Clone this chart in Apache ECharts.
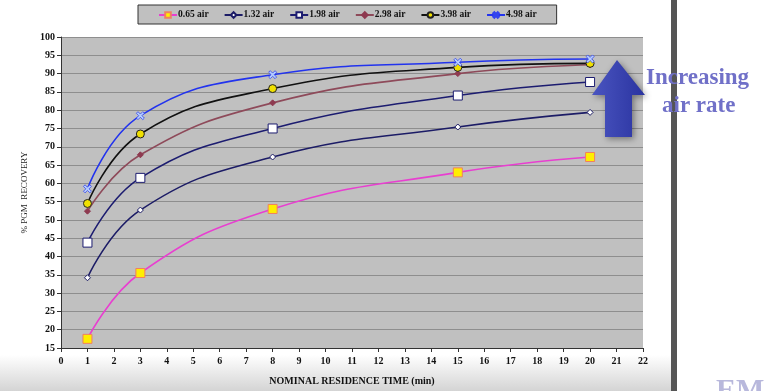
<!DOCTYPE html>
<html><head><meta charset="utf-8">
<script src="https://cdn.jsdelivr.net/npm/echarts@6/dist/echarts.min.js"></script>
<style>html,body{margin:0;padding:0;background:#fff}#c{width:764px;height:391px}</style>
</head><body><div id="c"></div>
<script>
var times = [1, 3, 8, 15, 20];
var seriesNames = ['0.65 air', '1.32 air', '1.98 air', '2.98 air', '3.98 air', '4.98 air'];
var air065 = [17.5, 35.5, 53.0, 63.0, 67.2];
var air132 = [34.2, 52.7, 67.2, 75.4, 79.4];
var air198 = [43.8, 61.5, 75.0, 84.0, 87.7];
var air298 = [52.4, 67.8, 82.0, 90.0, 92.4];
var air398 = [54.5, 73.5, 85.9, 91.7, 92.8];
var air498 = [58.5, 78.5, 89.7, 93.1, 94.0];
var xTicks = [0,1,2,3,4,5,6,7,8,9,10,11,12,13,14,15,16,17,18,19,20,21,22];
var yTicks = [15,20,25,30,35,40,45,50,55,60,65,70,75,80,85,90,95,100];

var values = [air065, air132, air198, air298, air398, air498];
var styles = [
  {line:'#e83fd0', symbol:'rect', size:9, fill:'#ffee00', border:'#f08060', bw:1},
  {line:'#1c1c66', symbol:'diamond', size:6, fill:'#ffffff', border:'#1c1c66', bw:1},
  {line:'#1c1c70', symbol:'rect', size:9, fill:'#ffffff', border:'#1c1c70', bw:1},
  {line:'#8e4a5a', symbol:'diamond', size:6, fill:'#8e3a50', border:'#8e3a50', bw:1},
  {line:'#111111', symbol:'circle', size:8, fill:'#f0e000', border:'#222222', bw:1},
  {line:'#2233ee', symbol:'path://M0,2L2,0L5,3L8,0L10,2L7,5L10,8L8,10L5,7L2,10L0,8L3,5Z', size:8, fill:'#b8d0ff', border:'#3344ee', bw:0.8}
];
var serif = '"Liberation Serif","DejaVu Serif",serif';
var series = values.map(function(v, i){
  var s = styles[i];
  return {
    name: seriesNames[i], type:'line', smooth:0.45,
    data: times.map(function(t, j){ return [t, v[j]]; }),
    symbol: s.symbol, symbolSize: s.size, showSymbol:true,
    lineStyle:{color:s.line, width:1.6},
    itemStyle:{color:s.fill, borderColor:s.border, borderWidth:s.bw},
    z: 3 + i
  };
});
var chart = echarts.init(document.getElementById('c'), null, {renderer:'canvas'});
chart.setOption({
  animation:false,
  backgroundColor:'#ffffff',
  graphic:[
    {type:'rect', z:-10, shape:{x:0,y:355,width:764,height:36},
      style:{fill:new echarts.graphic.LinearGradient(0,0,0,1,[{offset:0,color:'#ffffff'},{offset:1,color:'#d4d4d4'}])}},
    {type:'rect', z:-5, shape:{x:671,y:0,width:6,height:391}, style:{fill:'#555555'}},
    {type:'rect', z:-6, shape:{x:677,y:0,width:87,height:391}, style:{fill:'#ffffff'}},
    {type:'polygon', z:20, shape:{points:[[617,60],[645,95],[632,95],[632,137],[605,137],[605,95],[592,95]]},
      style:{fill:new echarts.graphic.LinearGradient(0,0,1,0,[{offset:0,color:'#4a55c0'},{offset:1,color:'#2a33a0'}]),
        shadowBlur:6, shadowColor:'rgba(0,0,0,0.4)', shadowOffsetX:2, shadowOffsetY:2}},
    {type:'text', z:21, left:646, top:67, style:{text:'Increasing', font:'bold 23px "Liberation Serif","DejaVu Serif",serif', fill:'#7070c8'}},
    {type:'text', z:21, left:662, top:95, style:{text:'air rate', font:'bold 23px "Liberation Serif","DejaVu Serif",serif', fill:'#7070c8'}},
    {type:'text', z:21, left:716, top:376, style:{text:'EMC', font:'bold 30px "Liberation Serif","DejaVu Serif",serif', fill:'#b8b8dc'}}
  ],
  legend:{
    data: seriesNames, left:138, top:5, orient:'horizontal',
    backgroundColor:'#c0c0c0', borderColor:'#333333', borderWidth:1,
    padding:[5,20,4,20], itemGap:15, itemWidth:18, itemHeight:7,
    textStyle:{fontFamily:serif, fontSize:9.5, fontWeight:'bold', color:'#111', padding:[0,0,0,-4]}
  },
  grid:{left:61, right:121, top:37, bottom:39, show:true, backgroundColor:'#c0c0c0', borderWidth:0},
  xAxis:{
    type:'value', min:0, max:22, interval:1,
    name:'NOMINAL RESIDENCE TIME (min)', nameLocation:'middle', nameGap:28,
    nameTextStyle:{fontFamily:serif, fontSize:10, fontWeight:'bold', color:'#111'},
    axisLine:{show:true, lineStyle:{color:'#333', width:1}},
    axisTick:{show:true, length:4, lineStyle:{color:'#333'}},
    axisLabel:{fontFamily:serif, fontSize:10, fontWeight:'bold', color:'#111', margin:8},
    splitLine:{show:false}
  },
  yAxis:{
    type:'value', min:15, max:100, interval:5,
    name:'% PGM  RECOVERY', nameLocation:'middle', nameGap:30, nameRotate:90,
    nameTextStyle:{fontFamily:serif, fontSize:9, color:'#222'},
    axisLine:{show:true, lineStyle:{color:'#333', width:1}},
    axisTick:{show:true, length:4, lineStyle:{color:'#333'}},
    axisLabel:{fontFamily:serif, fontSize:10, fontWeight:'bold', color:'#111', margin:6},
    splitLine:{show:true, lineStyle:{color:'#8e8e8e', width:1}}
  },
  series: series
});
</script></body></html>
